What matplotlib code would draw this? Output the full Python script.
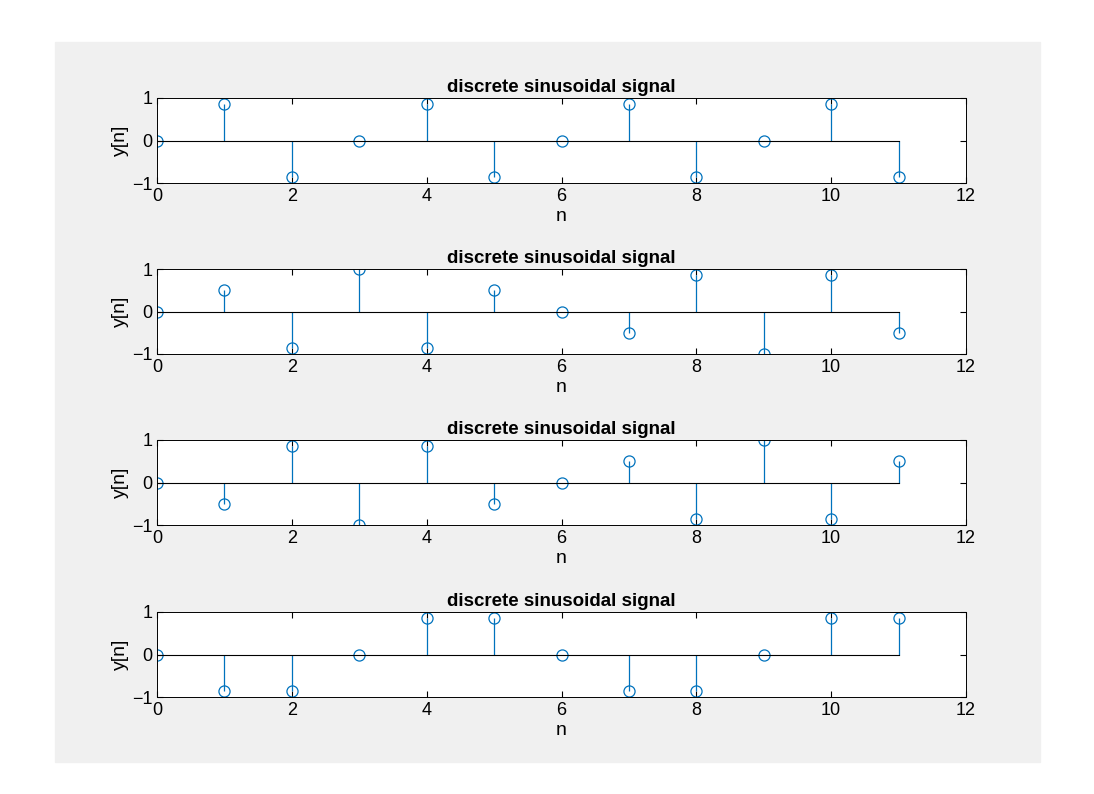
import matplotlib
matplotlib.use("Agg")
import matplotlib.pyplot as plt
from matplotlib.patches import Rectangle

n = list(range(12))
y1 = [0, 0.866, -0.866, 0, 0.866, -0.866, 0, 0.866, -0.866, 0, 0.866, -0.866]
y2 = [0, 0.5, -0.866, 1, -0.866, 0.5, 0, -0.5, 0.866, -1, 0.866, -0.5]
y3 = [0, -0.5, 0.866, -1, 0.866, -0.5, 0, 0.5, -0.866, 1, -0.866, 0.5]
y4 = [0, -0.866, -0.866, 0, 0.866, 0.866, 0, -0.866, -0.866, 0, 0.866, 0.866]
series = [y1, y2, y3, y4]
title = "discrete sinusoidal signal"

plt.rcParams['font.family'] = ['Liberation Sans', 'DejaVu Sans']
fig = plt.figure(figsize=(10.94, 7.94), dpi=100)
fig.add_artist(Rectangle((55/1094, 1-762/794), 985/1094, 720/794,
                         transform=fig.transFigure, color='#f0f0f0', zorder=-10))
bottoms = [1-183/794, 1-354/794, 1-525/794, 1-697/794]
c = '#0072BD'
for b, y in zip(bottoms, series):
    ax = fig.add_axes([157/1094, b, 809/1094, 85/794])
    ml, sl, bl = ax.stem(n, y, basefmt='k-')
    plt.setp(ml, markerfacecolor='none', markeredgecolor=c, markersize=8, markeredgewidth=0.9)
    plt.setp(sl, color=c, linewidth=0.9)
    plt.setp(bl, color='black', linewidth=0.8)
    ax.set_xlim(0, 12)
    ax.set_ylim(-1, 1)
    ax.set_xticks(range(0, 13, 2))
    ax.set_yticks([-1, 0, 1])
    ax.tick_params(direction='in', labelsize=13, length=4, top=True, right=True)
    ax.set_title(title, fontsize=13.5, fontweight='bold', pad=4)
    ax.set_xlabel('n', fontsize=14, labelpad=2)
    ax.set_ylabel('y[n]', fontsize=14, labelpad=2)
    for s in ax.spines.values():
        s.set_linewidth(0.7)
fig.savefig('out.png', dpi=100)
